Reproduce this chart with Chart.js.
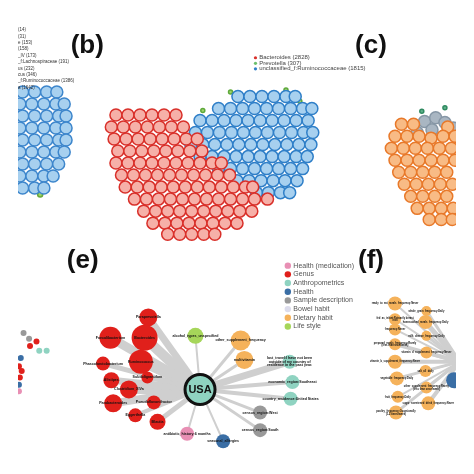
<!DOCTYPE html>
<html><head><meta charset="utf-8">
<script src="https://cdn.jsdelivr.net/npm/chart.js@4.4.1/dist/chart.umd.min.js"></script>
<style>html,body{margin:0;padding:0;background:#fff}#w{width:474px;height:474px}</style>
</head><body><div id="w"><canvas id="c"></canvas></div>
<script>
// ---- data (all coordinates in layout units of the figure) ----
const cloudARuminococcaceae = [[5,80],[18,80],[31,80],[42,80],[2,93],[15,93],[28,93],[41,93],[50,93],[5,106],[18,106],[31,106],[44,106],[52,106],[2,119],[15,119],[28,119],[41,119],[52,119],[5,132],[18,132],[31,132],[44,132],[52,132],[2,145],[15,145],[28,145],[41,145],[50,145],[5,158],[18,158],[31,158],[44,158],[2,171],[15,171],[28,171],[38,171],[5,184],[18,184],[28,184]];
const cloudAOther = [[15,186],[24,191]];
const cloudBBacteroides = [[106,105],[119,105],[132,105],[145,105],[158,105],[171,105],[101,118],[114,118],[127,118],[140,118],[153,118],[166,118],[179,118],[104,131],[117,131],[130,131],[143,131],[156,131],[169,131],[182,131],[194,131],[108,144],[121,144],[134,144],[147,144],[160,144],[173,144],[186,144],[199,144],[106,157],[119,157],[132,157],[145,157],[158,157],[171,157],[184,157],[197,157],[210,157],[220,157],[112,170],[125,170],[138,170],[151,170],[164,170],[177,170],[190,170],[203,170],[216,170],[229,170],[116,183],[129,183],[142,183],[155,183],[168,183],[181,183],[194,183],[207,183],[220,183],[233,183],[246,183],[254,183],[126,196],[139,196],[152,196],[165,196],[178,196],[191,196],[204,196],[217,196],[230,196],[243,196],[256,196],[270,196],[136,209],[149,209],[162,209],[175,209],[188,209],[201,209],[214,209],[227,209],[240,209],[253,209],[146,222],[159,222],[172,222],[185,222],[198,222],[211,222],[224,222],[237,222],[162,234],[175,234],[188,234],[201,234],[213,234]];
const cloudBRuminococcaceae = [[238,85],[251,85],[264,85],[277,85],[290,85],[300,85],[217,98],[230,98],[243,98],[256,98],[269,98],[282,98],[295,98],[308,98],[318,98],[197,111],[210,111],[223,111],[236,111],[249,111],[262,111],[275,111],[288,111],[301,111],[314,111],[192,124],[205,124],[218,124],[231,124],[244,124],[257,124],[270,124],[283,124],[296,124],[309,124],[319,124],[187,137],[200,137],[213,137],[226,137],[239,137],[252,137],[265,137],[278,137],[291,137],[304,137],[317,137],[197,150],[210,150],[223,150],[236,150],[249,150],[262,150],[275,150],[288,150],[301,150],[313,150],[217,163],[230,163],[243,163],[256,163],[269,163],[282,163],[295,163],[308,163],[237,176],[250,176],[263,176],[276,176],[289,176],[302,176],[258,189],[271,189],[284,189],[294,189]];
const cloudBPrevotella = [[200,100],[290,78],[305,90],[230,80]];
const cloudCMain = [[415,115],[428,115],[465,118],[408,128],[421,128],[434,128],[447,130],[460,128],[473,128],[404,141],[417,141],[430,141],[443,141],[456,141],[469,141],[408,154],[421,154],[434,154],[447,154],[460,154],[473,154],[412,167],[425,167],[438,167],[451,167],[464,167],[418,180],[431,180],[444,180],[457,180],[470,180],[425,193],[438,193],[451,193],[464,193],[432,206],[445,206],[458,206],[471,206],[445,218],[458,218],[470,218]];
const cloudCGrey = [[440,112],[452,108],[462,113],[448,121],[471,119],[432,124]];
const cloudCGreen = [[437,101],[462,97]];

const legendA = ["(14)","(31)","e (153)","(158)","_IV (173)","_f:Lachnospiraceae (191)","us (232)","cus (346)","_f:Ruminococcaceae (1386)","a (1642)"];
const legendB = ["Bacteroides (2828)","Prevotella (307)","unclassified_f:Ruminococcaceae (1815)"];
const legendE = ["Health (medication)","Genus","Anthropometrics","Health","Sample description","Bowel habit","Dietary habit","Life style"];

const hubE = {label:"USA", x:197, y:402, r:15};
const nodesE = [
 {n:"Paraprevotella",x:141,y:324,r:9,c:1,w:7},
 {n:"Faecalibacterium",x:100,y:346,r:11,c:1,w:9},
 {n:"Bacteroides",x:137,y:346,r:13,c:1,w:10},
 {n:"Ruminococcus",x:133,y:372,r:12,c:1,w:9},
 {n:"Phascolarctobacterium",x:92,y:374,r:7,c:1,w:5},
 {n:"Subdoligranulum",x:140,y:389,r:6,c:1,w:4},
 {n:"Alistipes",x:101,y:392,r:8,c:1,w:7},
 {n:"Clostridium_XlVa",x:120,y:402,r:9,c:1,w:9},
 {n:"Parabacteroides",x:103,y:417,r:9,c:1,w:8},
 {n:"Pseudoflavonifractor",x:147,y:416,r:7,c:1,w:5},
 {n:"Eggerthella",x:127,y:430,r:7,c:1,w:4},
 {n:"Blautia",x:151,y:437,r:8,c:1,w:5},
 {n:"alcohol_types_unspecified",x:192,y:344,r:8,c:7,w:2},
 {n:"other_supplement_frequency",x:241,y:349,r:10,c:6,w:3},
 {n:"multivitamin",x:245,y:370,r:9,c:6,w:3},
 {n:"last_travel:I have not been|outside of my country of|residence in the past year.",x:294,y:372,r:7,c:2,w:7},
 {n:"economic_region:Southeast",x:297,y:394,r:7,c:2,w:4},
 {n:"country_residence:United States",x:295,y:412,r:7,c:2,w:4},
 {n:"census_region:West",x:262,y:427,r:7,c:4,w:3},
 {n:"census_region:South",x:262,y:446,r:7,c:4,w:3},
 {n:"antibiotic_history:6 months",x:183,y:450,r:7,c:0,w:2},
 {n:"seasonal_allergies",x:222,y:458,r:7,c:3,w:2}
];
const hubF = {x:478, y:372};
const nodesF = [
 {n:"ready_to_eat_meals_frequency:Never",x:408,y:309,r:7,w:2},
 {n:"whole_grain_frequency:Daily",x:442,y:317,r:5,w:3},
 {n:"fed_as_infant:Primarily breast|milk",x:408,y:326,r:6,w:2},
 {n:"homecooked_meals_frequency:Daily",x:441,y:329,r:7,w:5},
 {n:"frequency:Never",x:408,y:337,r:6,w:2},
 {n:"milk_cheese_frequency:Daily",x:442,y:344,r:5,w:3},
 {n:"prepared_meals_frequency:Rarely|(less than once/week)",x:408,y:353,r:6,w:4},
 {n:"vitamin_d_supplement_frequency:Never",x:442,y:362,r:6,w:4},
 {n:"vitamin_b_supplement_frequency:Never",x:408,y:372,r:7,w:4},
 {n:"salt_all_daily",x:441,y:382,r:6,w:2},
 {n:"vegetable_frequency:Daily",x:410,y:390,r:7,w:3},
 {n:"other_supplement_frequency:Rarely|(less than once/week)",x:442,y:400,r:6,w:3},
 {n:"fruit_frequency:Daily",x:411,y:410,r:6,w:2},
 {n:"sugar_sweetened_drink_frequency:Never",x:444,y:417,r:7,w:4},
 {n:"poultry_frequency:Occasionally|(1-2 times/week)",x:409,y:427,r:7,w:3}
];
const dotsD = [[6,341,4],[12,347,4],[20,350,1],[13,355,1],[23,360,2],[31,360,2],[3,368,3],[1,377,1],[4,382,1],[2,389,1],[1,397,3],[1,404,0]];

const palE = ["#e88fb4","#e0201b","#8fd3c1","#3a6ea5","#999999","#dcdcec","#f5b25b","#a6d65a"];

// ---- build datasets ----
const P = a => a.map(p => ({x:p[0], y:p[1]}));
const ds = [];
function cloud(pts, fill, border, r){ ds.push({type:'scatter', data:P(pts), pointRadius:r, pointBackgroundColor:fill, pointBorderColor:border, pointBorderWidth:1.5, order:5}); }
cloud(cloudARuminococcaceae, '#a7d0ef', '#3d86cc', 6);
cloud(cloudAOther, '#9fd36a', '#6aa83a', 2.5);
cloud(cloudBBacteroides, '#f6b0a8', '#d9302a', 6);
cloud(cloudBRuminococcaceae, '#a7d0ef', '#2f7fc8', 6);
cloud(cloudBPrevotella, '#9fd36a', '#5da83a', 2);
cloud(cloudCMain, '#f8bb85', '#e8792a', 6);
cloud(cloudCGrey, '#a9b6c2', '#8797a6', 6);
cloud(cloudCGreen, '#5fb08a', '#2f8a60', 2);

nodesE.forEach(n => ds.push({type:'line', data:[{x:n.x,y:n.y},{x:hubE.x,y:hubE.y}], borderColor:'#cfcfcf', borderWidth:n.w, pointRadius:0, order:10}));
nodesF.forEach(n => ds.push({type:'line', data:[{x:n.x,y:n.y},{x:hubF.x,y:hubF.y}], borderColor:'#cfcfcf', borderWidth:n.w, pointRadius:0, order:10}));
ds.push({type:'scatter', data:nodesE.map(n=>({x:n.x,y:n.y})), pointRadius:nodesE.map(n=>n.r), pointBackgroundColor:nodesE.map(n=>palE[n.c]), pointBorderWidth:0, order:2});
ds.push({type:'scatter', data:nodesF.map(n=>({x:n.x,y:n.y})), pointRadius:nodesF.map(n=>n.r), pointBackgroundColor:'#f5b25b', pointBorderWidth:0, order:2});
ds.push({type:'scatter', data:[{x:472,y:392}], pointRadius:8, pointBackgroundColor:'#3a6ea5', pointBorderWidth:0, order:2});
ds.push({type:'scatter', data:[{x:hubE.x,y:hubE.y}], pointRadius:hubE.r, pointBackgroundColor:'#8fd3c1', pointBorderColor:'#111', pointBorderWidth:3, order:1});
ds.push({type:'scatter', data:dotsD.map(d=>({x:d[0],y:d[1]})), pointRadius:3, pointBackgroundColor:dotsD.map(d=>palE[d[2]]), pointBorderWidth:0, order:2});
ds.push({type:'scatter', data:legendE.map((t,i)=>({x:292,y:268+i*9.4})), pointRadius:3.2, pointBackgroundColor:palE, pointBorderWidth:0, order:1});
ds.push({type:'scatter', data:legendB.map((t,i)=>({x:257,y:43+i*6})), pointRadius:1.6, pointBackgroundColor:['#d9302a','#6cbf6c','#2f7fc8'], pointBorderWidth:0, order:1});

const textPlugin = {id:'txt', afterDatasetsDraw(chart){
  const c = chart.ctx, X = v=>chart.scales.x.getPixelForValue(v), Y = v=>chart.scales.y.getPixelForValue(v);
  c.save(); c.textBaseline='middle';
  c.fillStyle='#111'; c.font='bold 26px Liberation Sans, Arial'; c.textAlign='center';
  [["(b)",75,30],["(c)",382,30],["(e)",70,263],["(f)",382,263]].forEach(t=>c.fillText(t[0],X(t[1]),Y(t[2])));
  c.font='4.5px Liberation Sans'; c.textAlign='left'; c.fillStyle='#333';
  legendA.forEach((t,i)=>c.fillText(t,X(0),Y(13+i*6.9)));
  c.font='6px Liberation Sans'; c.fillStyle='#444';
  legendB.forEach((t,i)=>c.fillText(t,X(261),Y(43+i*6)));
  c.font='7px Liberation Sans'; c.fillStyle='#555';
  legendE.forEach((t,i)=>c.fillText(t,X(298),Y(268+i*9.4)));
  c.fillStyle='#111'; c.textAlign='center';
  const lab=(n,fs)=>{ c.font='bold '+fs+'px Liberation Sans'; const ls=n.n.split('|'); ls.forEach((l,k)=>c.fillText(l,X(n.x),Y(n.y+(k-(ls.length-1)/2)*fs*1.1)));};
  nodesE.forEach(n=>lab(n,3.6));
  nodesF.forEach(n=>lab(n,2.6));
  c.font='bold 11px Liberation Sans'; c.fillText(hubE.label,X(hubE.x),Y(hubE.y+0.5));
  c.restore();
}};

new Chart(document.getElementById('c'), {
  data:{datasets:ds},
  options:{responsive:true, maintainAspectRatio:false, animation:false,
    layout:{padding:0},
    plugins:{legend:{display:false}, tooltip:{enabled:false}},
    scales:{x:{type:'linear',min:0,max:474,display:false}, y:{type:'linear',min:0,max:474,reverse:true,display:false}}},
  plugins:[textPlugin]
});
</script></body></html>
